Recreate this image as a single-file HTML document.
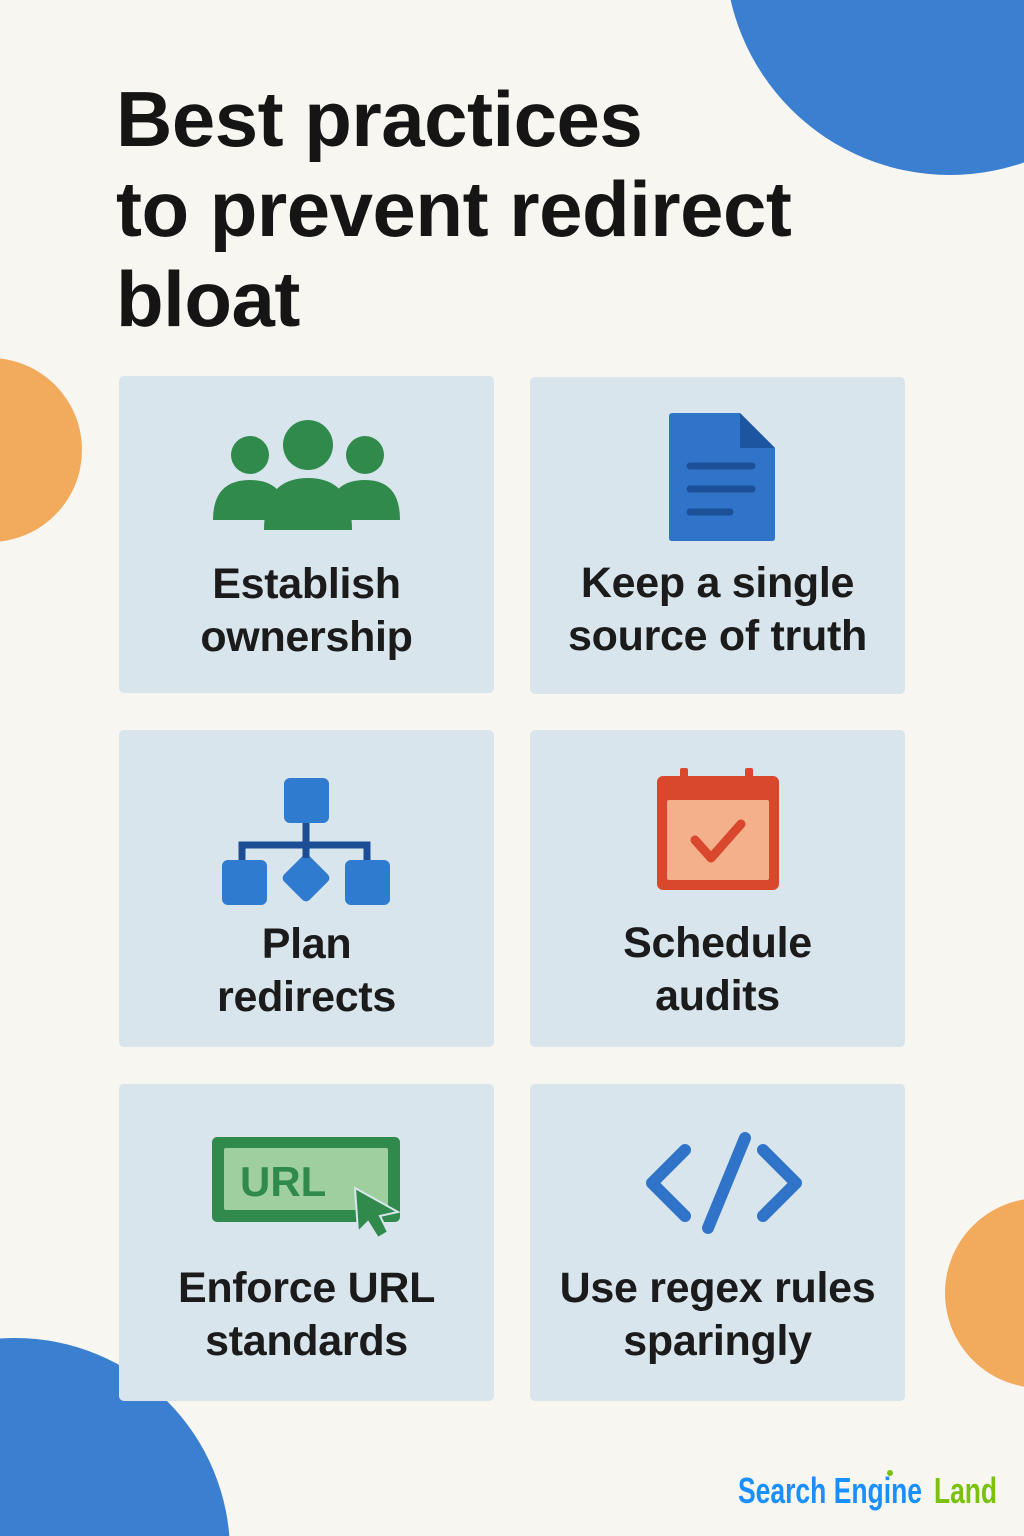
<!DOCTYPE html>
<html><head><meta charset="utf-8"><style>
html,body{margin:0;width:1024px;height:1536px;overflow:hidden}
#p{position:relative;width:1024px;height:1536px;overflow:hidden;background:#f8f6f1;font-family:"Liberation Sans",sans-serif}
.c{position:absolute;border-radius:6px}
.card{position:absolute;width:375px;height:317px;background:#d9e5ec;border-radius:5px}
.t{position:absolute;left:0;right:0;top:180px;text-align:center;font-size:43px;font-weight:bold;line-height:53px;color:#1b1b1b;letter-spacing:-0.3px}
h1{position:absolute;left:116px;top:74px;margin:0;font-size:78px;line-height:90px;font-weight:bold;color:#151515;letter-spacing:-0.5px}
svg{position:absolute}
</style></head><body><div id="p">
<div class="c" style="left:725px;top:-275px;width:450px;height:450px;border-radius:50%;background:#3b7fd0"></div>
<div class="c" style="left:-102px;top:358px;width:184px;height:184px;border-radius:50%;background:#f2aa5c"></div>
<div class="c" style="left:945px;top:1198px;width:190px;height:190px;border-radius:50%;background:#f2aa5c"></div>
<div class="c" style="left:-200px;top:1338px;width:430px;height:430px;border-radius:50%;background:#3b7fd0"></div>
<h1>Best practices<br>to prevent redirect<br>bloat</h1>

<div class="card" style="left:119px;top:376px"><div class="t" style="top:182px">Establish<br>ownership</div></div>
<div class="card" style="left:530px;top:377px"><div class="t">Keep a single<br>source of truth</div></div>
<div class="card" style="left:119px;top:730px"><div class="t" style="top:188px">Plan<br>redirects</div></div>
<div class="card" style="left:530px;top:730px"><div class="t" style="top:187px">Schedule<br>audits</div></div>
<div class="card" style="left:119px;top:1084px"><div class="t" style="top:178px">Enforce URL<br>standards</div></div>
<div class="card" style="left:530px;top:1084px"><div class="t" style="top:178px">Use regex rules<br>sparingly</div></div>

<svg width="1024" height="1536" style="left:0;top:0">
<g fill="#2f8a4c">
<circle cx="250" cy="455" r="19"/><circle cx="365" cy="455" r="19"/><circle cx="308" cy="445" r="25"/>
<path d="M213 520 Q213 480 250 480 Q287 480 287 520Z"/><path d="M328 520 Q328 480 365 480 Q400 480 400 520Z"/>
<path d="M264 530 Q264 478 308 478 Q352 478 352 530Z"/>
</g>
<path d="M673 413 H740 L775 448 V538 Q775 541 772 541 H672 Q669 541 669 538 V416 Q669 413 673 413Z" fill="#2f74c8"/>
<path d="M740 413 V448 H775Z" fill="#1d55a0"/>
<g stroke="#1d4f98" stroke-width="7" stroke-linecap="round"><line x1="690" y1="466" x2="752" y2="466"/><line x1="690" y1="489" x2="752" y2="489"/><line x1="690" y1="512" x2="730" y2="512"/></g>
<g fill="#2f7bd0">
<rect x="284" y="778" width="45" height="45" rx="6"/>
<rect x="222" y="860" width="45" height="45" rx="6"/>
<rect x="345" y="860" width="45" height="45" rx="6"/>
<rect x="288" y="860" width="36" height="36" rx="5" transform="rotate(45 306 878)"/>
</g>
<path d="M306 823 V858 M242 860 V845 H367 V860" stroke="#1b4e95" stroke-width="7" fill="none"/>
<rect x="657" y="776" width="122" height="114" rx="6" fill="#d9472c"/>
<rect x="680" y="768" width="8" height="14" rx="2" fill="#d9472c"/><rect x="745" y="768" width="8" height="14" rx="2" fill="#d9472c"/>
<rect x="667" y="800" width="102" height="80" rx="2" fill="#f3b08a"/>
<path d="M695 840 L711 858 L741 824" stroke="#d9472c" stroke-width="9" fill="none" stroke-linecap="round" stroke-linejoin="round"/>
<rect x="212" y="1137" width="188" height="85" rx="5" fill="#2f8a4c"/>
<rect x="224" y="1148" width="164" height="62" rx="2" fill="#9fcf9f"/>
<text x="240" y="1196" font-family="Liberation Sans" font-weight="bold" font-size="42" fill="#2f8a4c">URL</text>
<path d="M355 1188 L398 1212 L380 1216 L388 1232 L378 1238 L368 1222 L358 1232Z" fill="#2f8a4c" stroke="#d9e5ec" stroke-width="2"/>
<g stroke="#2f74c8" stroke-width="12" fill="none" stroke-linecap="round" stroke-linejoin="round">
<path d="M685 1150 L652 1183 L685 1216"/><path d="M763 1150 L796 1183 L763 1216"/><path d="M745 1138 L708 1228"/>
</g>
<text x="738" y="1503" font-family="Liberation Sans" font-weight="bold" font-size="36" fill="#1a8fff" textLength="184" lengthAdjust="spacingAndGlyphs">Search Engine</text>
<text x="934" y="1503" font-family="Liberation Sans" font-weight="bold" font-size="36" fill="#7cc012" textLength="63" lengthAdjust="spacingAndGlyphs">Land</text>
<circle cx="890" cy="1473" r="3" fill="#7cc012"/>
</svg>
</div></body></html>
